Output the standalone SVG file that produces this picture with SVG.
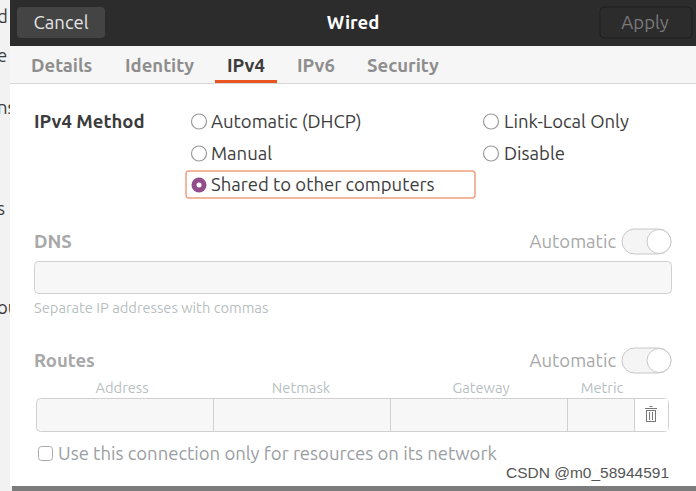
<svg xmlns="http://www.w3.org/2000/svg" width="696" height="491" viewBox="0 0 696 491">
<style>
text{font-family:Ubuntu,"Noto Sans","DejaVu Sans",sans-serif}
.lbl{font-size:18.5px;fill:#3c3c3c}
.tab{font-size:18.5px;font-weight:bold;fill:#8e8e8e}
.radio{fill:#fff;stroke:#9a9a9a;stroke-width:1.2}
.hdr{font-size:14.7px;fill:#b8bfc2;text-anchor:middle}
</style>
<rect width="696" height="491" fill="#7c7c7c"/>
<rect x="0" y="0" width="12" height="491" fill="#f2f2f2"/>
<g><text x="-3" y="23" class="lbl">d</text><text x="-3" y="62" class="lbl">e</text><text x="-3" y="114" class="lbl">ns</text><text x="-3" y="215" class="lbl">s</text><text x="-3" y="314" class="lbl">ou</text></g>
<g id="dialog">
<rect x="10" y="0" width="686" height="486" fill="#fff"/>
<rect x="10" y="0" width="686" height="46" fill="#2c2c2c"/>
<rect x="10" y="46" width="686" height="37" fill="#f6f6f6"/>
<line x1="10" y1="83.5" x2="696" y2="83.5" stroke="#d8d8d8"/>
</g>
<g id="cancel"><rect x="17" y="7" width="88" height="31" rx="4" fill="#444"/><text x="61" y="29" font-size="18.5" fill="#e6e6e6" text-anchor="middle">Cancel</text></g>
<text x="353" y="29" font-size="18.5" font-weight="bold" fill="#fff" text-anchor="middle">Wired</text>
<g id="apply"><rect x="600" y="7" width="92" height="31" rx="4" fill="#2c2c2c" stroke="#1e1e1e"/><text x="645" y="29" font-size="18.5" fill="#7a7a7a" text-anchor="middle">Apply</text></g>
<g id="tabs">
<text x="31" y="72" class="tab">Details</text>
<text x="125" y="72" class="tab">Identity</text>
<text x="227" y="72" class="tab" style="fill:#3c3c3c">IPv4</text>
<rect x="215" y="80" width="62" height="3" fill="#e95420"/>
<text x="297" y="72" class="tab">IPv6</text>
<text x="367" y="72" class="tab">Security</text>
</g>
<g id="method">
<text x="34" y="128" class="lbl" font-weight="bold">IPv4 Method</text>
<circle cx="199" cy="121.5" r="7.5" class="radio"/><text x="211" y="128" class="lbl">Automatic (DHCP)</text>
<circle cx="199" cy="153.5" r="7.5" class="radio"/><text x="211" y="160" class="lbl">Manual</text>
<rect x="186" y="171" width="289" height="27" rx="3" fill="none" stroke="#f0a080" stroke-width="1.5"/>
<circle cx="199" cy="185" r="7.5" fill="#924d8b"/><circle cx="199" cy="185" r="2.5" fill="#fff"/><text x="211" y="191" class="lbl">Shared to other computers</text>
<circle cx="491" cy="121.5" r="7.5" class="radio"/><text x="504" y="128" class="lbl">Link-Local Only</text>
<circle cx="491" cy="153.5" r="7.5" class="radio"/><text x="504" y="160" class="lbl">Disable</text>
</g>
<g id="dns">
<text x="34" y="248" class="lbl" font-weight="bold" style="fill:#a8a8a8">DNS</text>
<text x="616" y="248" class="lbl" style="fill:#a8a8a8" text-anchor="end">Automatic</text>
<rect x="622" y="229" width="49" height="25" rx="12.5" fill="#f5f5f5" stroke="#c8c8c8"/><circle cx="659" cy="241.5" r="12" fill="#fff" stroke="#c8c8c8"/>
<rect x="34.5" y="261.5" width="637" height="32" rx="4" fill="#f7f7f7" stroke="#d0d0d0"/>
<text x="34" y="313" font-size="14.7" fill="#b8bfc2">Separate IP addresses with commas</text>
</g>
<g id="routes">
<text x="34" y="367" class="lbl" font-weight="bold" style="fill:#a8a8a8">Routes</text>
<text x="616" y="367" class="lbl" style="fill:#a8a8a8" text-anchor="end">Automatic</text>
<rect x="622" y="348" width="49" height="25" rx="12.5" fill="#f5f5f5" stroke="#c8c8c8"/><circle cx="659" cy="360.5" r="12" fill="#fff" stroke="#c8c8c8"/>
<text x="122" y="393" class="hdr">Address</text><text x="301" y="393" class="hdr">Netmask</text><text x="481" y="393" class="hdr">Gateway</text><text x="602" y="393" class="hdr">Metric</text>
<rect x="36.5" y="398.5" width="632" height="33" rx="4" fill="#f7f7f7" stroke="#d0d0d0"/>
<rect x="634" y="399" width="34" height="32" fill="#fff"/>
<g stroke="#d0d0d0"><line x1="213.5" y1="399" x2="213.5" y2="431"/><line x1="390.5" y1="399" x2="390.5" y2="431"/><line x1="567.5" y1="399" x2="567.5" y2="431"/><line x1="634.5" y1="399" x2="634.5" y2="431"/></g>
<g fill="none" stroke="#777" stroke-width="1"><rect x="646.5" y="410.5" width="9" height="11"/><line x1="645" y1="408.5" x2="657" y2="408.5"/><line x1="649.5" y1="406.5" x2="652.5" y2="406.5"/><line x1="649.5" y1="412" x2="649.5" y2="420"/><line x1="652.5" y1="412" x2="652.5" y2="420"/></g>
</g>
<g id="checkbox"><rect x="38.5" y="446.5" width="14" height="14" rx="3" fill="#fff" stroke="#aaa"/><text x="58" y="460" class="lbl" style="fill:#9a9ea2">Use this connection only for resources on its network</text></g>
<text x="506" y="478" font-size="15.5" fill="#555" style="font-family:'Liberation Sans',sans-serif">CSDN @m0_58944591</text>
</svg>
